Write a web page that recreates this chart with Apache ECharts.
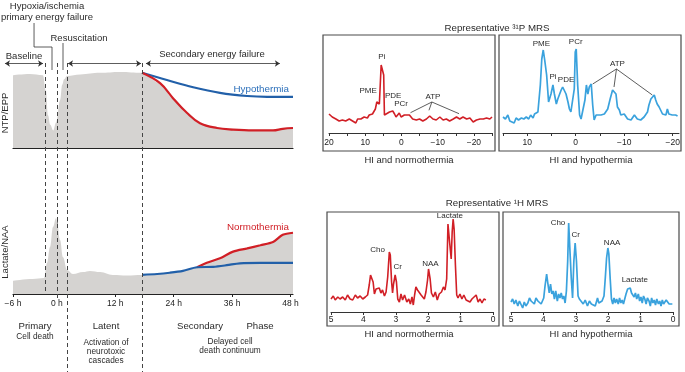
<!DOCTYPE html>
<html>
<head>
<meta charset="utf-8">
<script src="https://cdn.jsdelivr.net/npm/echarts@6/dist/echarts.min.js"></script>
<style>
  html, body { margin: 0; padding: 0; background: #fff; }
  #main { width: 685px; height: 372px; }
</style>
</head>
<body>
<div id="main"></div>
<script>
// ---- timeline (hours, arbitrary units) ----
var ntpBefore = [[-6,91],[-3.7,92.5],[-1.9,91],[-1.5,72],[-1.2,41],[-0.9,29],[-0.5,22],[-0.1,32],[0.7,60],[1.1,79],[1.5,86],[2.1,90],[4.8,92],[8.9,94],[13,95],[17.5,94]];
var ntpNormo = [[17.5,94],[21.2,81],[23.9,62],[26.7,44],[29.4,31],[32.9,25],[36.2,23],[40.3,22],[44.4,22],[46.4,24],[48.5,25]];
var ntpHypo = [[17.5,94],[22.6,85],[28,76],[33.5,69],[39.1,65],[43.2,64],[45.8,64],[48.5,64]];

var lacBefore = [[-6,16.6],[-3.3,18.8],[-1.75,20],[-1.34,38.8],[-0.93,58.8],[-0.52,83.8],[-0.1,95],[0.04,90],[0.66,67.5],[1.27,46],[2.1,30],[3.3,25],[5.4,27.5],[6.8,28.8],[8.9,27.5],[11.5,23.8],[14.4,23],[17.5,23.8]];
var lacHypo = [[17.5,24],[20.6,25],[23.2,26.6],[25.9,29],[28.8,33.4],[32.1,34],[34.9,36],[37.6,38.4],[41.8,39],[45.8,39],[48.5,39]];
var lacNormo = [[28.8,33.4],[30.8,39],[33.5,44.6],[36.2,53],[39.1,57],[41.8,61],[44.4,65],[46.4,74],[48.5,76.6]];

var timeTicks = [-6, 0, 12, 24, 36, 48];
var phaseLines = [-1.6, 0, 2.1, 17.5];

// ---- spectra [ppm, amplitude] ----
var p31Normo = [[20,19],[19.1,16],[18.1,14],[17.2,12],[16.3,13],[15.4,12],[14.4,14],[13.5,12],[12.6,10],[12.1,14],[11.2,14],[10.3,16],[9.4,15],[8.9,18],[8.0,19],[7.2,24],[6.8,31],[6.3,33],[6.1,29],[5.6,68],[5.2,69],[4.9,58],[4.7,18],[4.3,20],[3.3,21],[2.4,22],[1.9,19],[1.5,16],[1.0,18],[0.6,20],[0.1,16],[-0.4,14],[-0.8,18],[-1.3,16],[-2.2,18],[-2.7,19],[-3.1,14],[-4.1,13],[-5.0,14],[-5.9,12],[-6.9,14],[-7.8,17],[-8.7,14],[-9.6,13],[-10.6,16],[-11.5,13],[-12.4,14],[-13.3,12],[-14.3,14],[-15.2,16],[-16.1,14],[-17.0,16],[-18.0,14],[-18.9,15],[-19.8,11],[-20.7,13],[-21.7,14],[-22.6,14],[-23.5,15],[-24.4,14],[-25,16]];
var p31Hypo = [[15,16],[14.5,14],[14.0,18],[13.6,12],[13.2,14],[12.7,10],[12.3,15],[11.8,13],[11.2,15],[10.7,14],[10.2,16],[9.7,14],[9.3,18],[8.8,15],[8.5,19],[8.2,18],[7.8,21],[7.3,48],[7.0,74],[6.7,83],[6.4,73],[6.0,58],[5.6,31],[5.4,29],[5.1,39],[4.7,48],[4.4,39],[4.0,29],[3.7,34],[3.0,43],[2.7,46],[2.3,44],[2.0,39],[1.6,31],[1.3,24],[1.0,21],[0.6,23],[0.3,44],[0.1,81],[-0.1,84],[-0.4,48],[-0.8,18],[-1.1,14],[-1.4,16],[-1.9,33],[-2.2,48],[-2.5,39],[-2.8,46],[-3.2,49],[-3.5,28],[-3.8,13],[-4.2,18],[-4.5,19],[-5.2,18],[-5.9,19],[-6.6,24],[-7.1,34],[-7.6,43],[-7.9,44],[-8.3,39],[-8.6,26],[-9.0,23],[-9.3,18],[-10.0,19],[-10.7,14],[-11.4,13],[-12.1,18],[-12.7,14],[-13.4,13],[-14.1,16],[-14.8,21],[-15.1,28],[-15.5,34],[-15.8,33],[-16.2,38],[-16.5,33],[-16.8,29],[-17.2,26],[-17.5,23],[-17.9,19],[-18.2,21],[-18.6,18],[-18.9,24],[-19.2,19],[-19.6,21],[-19.9,18],[-20.3,16],[-20.6,18],[-21.0,17]];
var h1Normo = [[5.0,13],[4.93,16],[4.87,12],[4.79,15],[4.72,13],[4.64,15],[4.56,12],[4.49,17],[4.41,13],[4.33,12],[4.25,17],[4.18,14],[4.10,16],[4.02,13],[3.94,15],[3.87,17],[3.82,27],[3.78,37],[3.74,39],[3.70,30],[3.66,18],[3.61,23],[3.56,22],[3.51,24],[3.46,19],[3.41,22],[3.35,16],[3.30,20],[3.25,35],[3.20,60],[3.17,57],[3.13,30],[3.10,19],[3.07,28],[3.02,37],[2.98,30],[2.94,13],[2.89,10],[2.84,18],[2.79,12],[2.73,17],[2.66,10],[2.60,13],[2.55,8],[2.50,15],[2.46,7],[2.42,17],[2.38,25],[2.33,22],[2.27,20],[2.22,17],[2.17,17],[2.12,13],[2.07,20],[2.02,32],[1.99,43],[1.94,33],[1.90,19],[1.84,15],[1.78,20],[1.72,12],[1.66,18],[1.59,20],[1.53,25],[1.48,22],[1.43,33],[1.39,88],[1.35,87],[1.32,63],[1.29,53],[1.26,80],[1.23,93],[1.20,83],[1.16,47],[1.12,17],[1.08,14],[1.02,18],[0.96,13],[0.90,17],[0.83,12],[0.77,14],[0.71,10],[0.65,13],[0.59,12],[0.52,17],[0.46,10],[0.40,13],[0.34,9],[0.28,13],[0.22,12]];
var h1Hypo = [[5.00,10],[4.95,13],[4.90,8],[4.85,12],[4.79,6],[4.74,11],[4.69,9],[4.64,4],[4.59,10],[4.54,6],[4.48,9],[4.43,14],[4.38,11],[4.33,13],[4.28,8],[4.23,14],[4.17,11],[4.12,13],[4.07,8],[4.03,8],[3.99,14],[3.95,26],[3.90,38],[3.86,28],[3.82,19],[3.78,28],[3.74,18],[3.70,21],[3.66,13],[3.62,21],[3.57,11],[3.53,18],[3.49,14],[3.45,19],[3.41,13],[3.37,16],[3.33,9],[3.29,21],[3.25,51],[3.22,89],[3.18,61],[3.14,34],[3.10,14],[3.06,51],[3.02,69],[2.98,51],[2.93,16],[2.89,13],[2.83,11],[2.77,8],[2.71,12],[2.64,6],[2.58,11],[2.52,8],[2.46,10],[2.40,6],[2.33,14],[2.29,9],[2.25,8],[2.19,11],[2.13,16],[2.09,34],[2.05,54],[2.01,64],[1.98,58],[1.94,34],[1.90,13],[1.86,8],[1.82,14],[1.78,9],[1.74,13],[1.69,8],[1.65,14],[1.61,9],[1.57,12],[1.53,8],[1.49,13],[1.45,18],[1.40,23],[1.36,21],[1.32,24],[1.28,19],[1.24,21],[1.20,15],[1.16,19],[1.12,13],[1.07,18],[1.03,11],[0.99,15],[0.95,9],[0.91,16],[0.87,13],[0.83,8],[0.79,14],[0.74,11],[0.70,6],[0.66,14],[0.62,9],[0.58,12],[0.54,7],[0.50,13],[0.45,8],[0.41,11],[0.37,6],[0.33,12],[0.29,8],[0.25,10],[0.21,12],[0.17,11],[0.12,8],[0.07,10],[0.02,8]];

var p31NormoPeaks = [['Pi',5.4,76],['PME',9.2,42],['PDE',2.3,37],['PCr',0.1,29],['ATP',-8.7,36]];
var p31HypoPeaks = [['PME',7.1,89],['PCr',0,91],['Pi',4.7,56],['PDE',2.0,53],['ATP',-8.6,69]];
var h1NormoPeaks = [['Cho',3.56,62],['Cr',2.94,45],['NAA',1.93,48],['Lactate',1.33,96]];
var h1HypoPeaks = [['Cho',3.55,89],['Cr',3.0,77],['NAA',1.88,69],['Lactate',1.18,32]];

var RED = '#d11f26', BLUE = '#2260a9', LBLUE = '#3aa2dd', GRAY = '#d5d3d1', INK = '#2b2b2b';
var FONT = '"Liberation Sans", Arial, sans-serif';

// the hours before 0 h are drawn stretched
function tx(h) { return h < 0 ? h * 1.5 : h; }
function mapT(arr) { return arr.map(function (p) { return [tx(p[0]), p[1]]; }); }
function minus(v) { return v < 0 ? '\u2212' + (-v) : String(v); }

var ntpArea = ntpBefore.concat(ntpNormo.slice(1));
var lacArea = lacBefore.concat(lacHypo.slice(1).filter(function (p) { return p[0] < 28.8; })).concat(lacNormo);

function txt(text, x, y, size, color, align, rot) {
  return {
    type: 'text', x: x, y: y, rotation: rot || 0, silent: true,
    style: { text: text, x: 0, y: 0, fill: color || INK, fontSize: size, fontFamily: FONT,
      align: align || 'center', verticalAlign: 'middle' }
  };
}
function frame(x, y, w, h) {
  return { type: 'rect', silent: true, shape: { x: x, y: y, width: w, height: h },
    style: { fill: 'none', stroke: '#4a4a4a', lineWidth: 1.2 } };
}
function peakMarks(list) {
  return {
    symbol: 'circle', symbolSize: 0, silent: true,
    label: { show: true, position: 'inside', color: INK, fontSize: 8, fontFamily: FONT, formatter: '{b}' },
    data: list.map(function (p) { return { name: p[0], coord: [p[1], p[2]] }; })
  };
}
function fanLines(apex, ends) {
  return {
    symbol: ['none', 'none'], silent: true, label: { show: false },
    lineStyle: { color: '#333', width: 0.8, type: 'solid' },
    data: ends.map(function (e) { return [{ coord: apex }, { coord: e }]; })
  };
}

var baseGrid = { containLabel: false, outerBoundsMode: 'none' };
function g(o) { return Object.assign({}, baseGrid, o); }

var hidden = { show: false };
function specX(idx, min, max, margin, ticks, labels) {
  var ax = {
    gridIndex: idx, type: 'value', min: min, max: max, inverse: true,
    axisLine: { lineStyle: { color: '#333', width: 1 } },
    axisTick: { length: 3, lineStyle: { color: '#333' } },
    axisLabel: { fontSize: 8.5, color: '#222', fontFamily: FONT, margin: margin, formatter: function (v) { return minus(v); } },
    splitLine: hidden
  };
  if (ticks) {
    ax.axisTick.customValues = ticks;
    ax.axisLabel.customValues = labels;
  } else {
    ax.interval = 1;
  }
  return ax;
}

var chart = echarts.init(document.getElementById('main'));
chart.setOption({
  animation: false,
  backgroundColor: '#fff',
  grid: [
    g({ left: 13, top: 68, width: 280, height: 80 }),
    g({ left: 13, top: 220, width: 280, height: 74 }),
    g({ left: 0, top: 0, width: 293, height: 372 }),
    g({ left: 329, top: 34, width: 163, height: 99 }),
    g({ left: 503, top: 34, width: 176, height: 99 }),
    g({ left: 331, top: 211, width: 162, height: 101 }),
    g({ left: 511, top: 211, width: 162, height: 101 })
  ],
  xAxis: [
    { gridIndex: 0, type: 'value', min: -9, max: 48.5, axisLine: { lineStyle: { color: '#222', width: 1.2 } },
      axisTick: hidden, axisLabel: hidden, splitLine: hidden },
    { gridIndex: 1, type: 'value', min: -9, max: 48.5, axisLine: { lineStyle: { color: '#222', width: 1.2 } },
      axisTick: { length: 3, customValues: timeTicks.map(tx), lineStyle: { color: '#222' } },
      axisLabel: { customValues: timeTicks.map(tx), fontSize: 8.5, color: '#222', fontFamily: FONT, margin: 5,
        formatter: function (v) { return minus(v < 0 ? v / 1.5 : v) + ' h'; } },
      splitLine: hidden },
    { gridIndex: 2, type: 'value', min: -11.67, max: 48.5, show: false },
    specX(3, -25, 20, 5, [20,15,10,5,0,-5,-10,-15,-20,-25], [20,10,0,-10,-20]),
    specX(4, -21.3, 15, 5, [15,10,5,0,-5,-10,-15,-20], [10,0,-10,-20]),
    specX(5, 0, 5, 3),
    specX(6, 0, 5, 3)
  ],
  yAxis: [
    { gridIndex: 0, type: 'value', min: 0, max: 100, show: false },
    { gridIndex: 1, type: 'value', min: 0, max: 92.5, axisLine: { show: true, lineStyle: { color: '#555', width: 1 } },
      axisTick: hidden, axisLabel: hidden, splitLine: hidden },
    { gridIndex: 2, type: 'value', min: 0, max: 372, show: false },
    { gridIndex: 3, type: 'value', min: 0, max: 99, show: false },
    { gridIndex: 4, type: 'value', min: 0, max: 99, show: false },
    { gridIndex: 5, type: 'value', min: 0, max: 101, show: false },
    { gridIndex: 6, type: 'value', min: 0, max: 101, show: false }
  ],
  series: [
    { type: 'line', xAxisIndex: 0, yAxisIndex: 0, data: mapT(ntpArea), symbol: 'none', smooth: 0.4, smoothMonotone: 'x',
      lineStyle: { width: 0 }, areaStyle: { color: GRAY, opacity: 1 }, z: 1 },
    { type: 'line', xAxisIndex: 0, yAxisIndex: 0, data: mapT(ntpHypo), symbol: 'none', smooth: 0.4,
      lineStyle: { color: BLUE, width: 2.2 }, z: 3 },
    { type: 'line', xAxisIndex: 0, yAxisIndex: 0, data: mapT(ntpNormo), symbol: 'none', smooth: 0.4,
      lineStyle: { color: RED, width: 2.2 }, z: 3 },
    { type: 'line', xAxisIndex: 1, yAxisIndex: 1, data: mapT(lacArea), symbol: 'none', smooth: 0.4, smoothMonotone: 'x',
      clip: false, lineStyle: { width: 0 }, areaStyle: { color: GRAY, opacity: 1 }, z: 1 },
    { type: 'line', xAxisIndex: 1, yAxisIndex: 1, data: mapT(lacNormo), symbol: 'none', smooth: 0.3,
      lineStyle: { color: RED, width: 2.2 }, z: 3 },
    { type: 'line', xAxisIndex: 1, yAxisIndex: 1, data: mapT(lacHypo), symbol: 'none', smooth: 0.3,
      lineStyle: { color: BLUE, width: 2.2 }, z: 4 },
    // phase boundaries
    { type: 'lines', coordinateSystem: 'cartesian2d', xAxisIndex: 2, yAxisIndex: 2, z: 5, silent: true,
      lineStyle: { color: '#444', width: 1, type: [4, 3], opacity: 1 },
      data: [
        { coords: [[tx(phaseLines[0]), 309], [tx(phaseLines[0]), 79]] },
        { coords: [[tx(phaseLines[1]), 309], [tx(phaseLines[1]), 72]] },
        { coords: [[tx(phaseLines[2]), 309], [tx(phaseLines[2]), 0]] },
        { coords: [[tx(phaseLines[3]), 309], [tx(phaseLines[3]), 0]] }
      ] },
    // double arrows over the phases
    { type: 'lines', coordinateSystem: 'cartesian2d', xAxisIndex: 2, yAxisIndex: 2, z: 5, silent: true,
      symbol: ['arrow', 'arrow'], symbolSize: 5,
      lineStyle: { color: '#333', width: 0.8, opacity: 1 },
      data: [
        { coords: [[tx(-7.1), 308.5], [tx(-1.89), 308.5]] },
        { coords: [[tx(2.3), 308.5], [tx(17.3), 308.5]] },
        { coords: [[tx(18.3), 308.5], [tx(45.8), 308.5]] }
      ] },
    // pointers
    { type: 'lines', coordinateSystem: 'cartesian2d', xAxisIndex: 2, yAxisIndex: 2, z: 5, silent: true,
      polyline: true, symbol: ['none', 'arrow'], symbolSize: 5,
      lineStyle: { color: '#333', width: 0.8, opacity: 1 },
      data: [
        { coords: [[tx(-3.12), 349], [tx(-3.12), 325], [tx(-0.66), 325], [tx(-0.66), 302]] },
        { coords: [[tx(1.27), 329], [tx(1.27), 302]] }
      ] },
    // spectra
    { type: 'line', xAxisIndex: 3, yAxisIndex: 3, data: p31Normo, symbol: 'none',
      lineStyle: { color: RED, width: 1.6 }, markPoint: peakMarks(p31NormoPeaks),
      markLine: fanLines([-8.4, 31], [[-2.5, 20.3], [-7.6, 22.7], [-15.9, 19.3]]) },
    { type: 'line', xAxisIndex: 4, yAxisIndex: 4, data: p31Hypo, symbol: 'none',
      lineStyle: { color: LBLUE, width: 1.7 }, markPoint: peakMarks(p31HypoPeaks),
      markLine: fanLines([-8.4, 64], [[-3.5, 49], [-7.9, 46], [-15.8, 38]]) },
    { type: 'line', xAxisIndex: 5, yAxisIndex: 5, data: h1Normo, symbol: 'none',
      lineStyle: { color: RED, width: 1.6 }, markPoint: peakMarks(h1NormoPeaks) },
    { type: 'line', xAxisIndex: 6, yAxisIndex: 6, data: h1Hypo, symbol: 'none',
      lineStyle: { color: LBLUE, width: 1.7 }, markPoint: peakMarks(h1HypoPeaks) }
  ],
  graphic: [
    txt('Hypoxia/ischemia', 47, 6, 9.5),
    txt('primary energy failure', 47, 17, 9.5),
    txt('Resuscitation', 79, 38, 9.5),
    txt('Baseline', 24, 56, 9.5),
    txt('Secondary energy failure', 212, 54, 9.5),
    txt('Hypothermia', 289, 89, 9.8, '#2b6fba', 'right'),
    txt('Normothermia', 289, 143, 9.8, RED, 'right'),
    txt('Normothermia', 289, 227, 9.8, RED, 'right'),
    txt('Hypothermia', 289, 273, 9.8, '#2b6fba', 'right'),
    txt('NTP/EPP', 5, 113, 9.5, INK, 'center', Math.PI / 2),
    txt('Lactate/NAA', 5, 252, 9.5, INK, 'center', Math.PI / 2),
    txt('Primary', 35, 326, 9.6),
    txt('Cell death', 35, 337, 8.3),
    txt('Latent', 106, 326, 9.6),
    txt('Activation of', 106, 343, 8.3),
    txt('neurotoxic', 106, 352, 8.3),
    txt('cascades', 106, 361, 8.3),
    txt('Secondary', 200, 326, 9.6),
    txt('Phase', 260, 326, 9.6),
    txt('Delayed cell', 230, 342, 8.3),
    txt('death continuum', 230, 351, 8.3),
    txt('Representative \u00b3\u00b9P MRS', 497, 28, 9.7),
    txt('HI and normothermia', 409, 160, 9.5),
    txt('HI and hypothermia', 591, 160, 9.5),
    txt('Representative \u00b9H MRS', 497, 203, 9.7),
    txt('HI and normothermia', 409, 334, 9.5),
    txt('HI and hypothermia', 591, 334, 9.5),
    frame(323, 35, 172, 116),
    frame(499, 35, 182, 116),
    frame(327, 212, 172, 114),
    frame(503, 212, 176, 114)
  ]
});
</script>
</body>
</html>
